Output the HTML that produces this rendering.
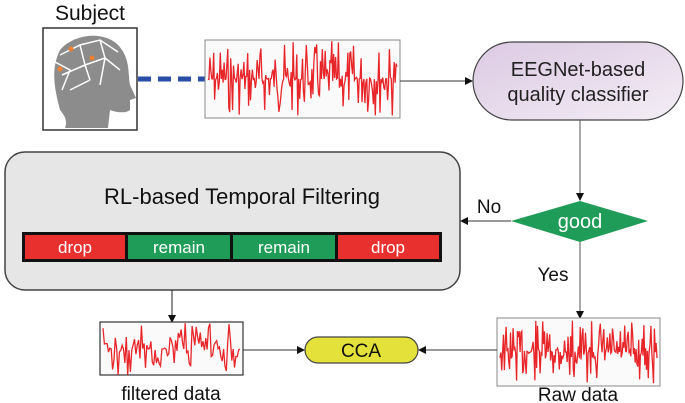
<!DOCTYPE html>
<html><head><meta charset="utf-8"><style>
body{margin:0;background:#fff}
svg{display:block}
text{font-family:"Liberation Sans",sans-serif}
</style></head><body>
<svg id="s" width="685" height="403" viewBox="0 0 685 403" xmlns="http://www.w3.org/2000/svg">
<defs>
<marker id="a" markerWidth="8" markerHeight="8" refX="7" refY="4" orient="auto" markerUnits="userSpaceOnUse"><path d="M0,0 L8,4 L0,8z" fill="#111"/></marker>
<linearGradient id="pg" x1="0" y1="0" x2="1" y2="1"><stop offset="0" stop-color="#dcc9e3"/><stop offset="1" stop-color="#f3eef5"/></linearGradient>
</defs>
<text x="90" y="20" font-size="21" text-anchor="middle" fill="#111">Subject</text>
<rect x="43" y="28" width="94" height="102" fill="#fff" stroke="#333" stroke-width="1.5"/>
<path d="M60,110 C55,90 50,70 60,50 C75,32 110,30 122,50 C130,62 128,75 130,85 L136,98 L130,100 L130,110 C125,114 115,112 110,110 L108,128 L65,128 C68,120 64,115 60,110z" fill="#8c8c8c"/>
<path d="M60,55 L80,45 L100,40 L118,52 M62,75 L85,65 L105,58 L120,70 M70,90 L90,80 M80,45 L85,65 L90,80 M100,40 L105,58 M55,62 L70,70 L62,90 M105,58 L100,85" stroke="#fff" stroke-width="1.5" fill="none"/>
<circle cx="71" cy="49" r="2.5" fill="#f08030"/><circle cx="92" cy="58" r="2.5" fill="#f08030"/><circle cx="60" cy="69" r="2.5" fill="#f08030"/>
<line x1="138" y1="79" x2="205" y2="79" stroke="#2a4ea8" stroke-width="5" stroke-dasharray="13,7"/>
<rect x="205" y="40" width="195" height="78" fill="#fafafa" stroke="#888" stroke-width="1"/>
<g id="w1"></g>
<line x1="400" y1="81" x2="472" y2="81" stroke="#333" stroke-width="1" marker-end="url(#a)"/>
<rect x="473" y="42" width="210" height="78" rx="39" fill="url(#pg)" stroke="#444" stroke-width="1.2"/>
<text x="578" y="76" font-size="20" text-anchor="middle" fill="#222">EEGNet-based</text>
<text x="578" y="101" font-size="20" text-anchor="middle" fill="#222">quality classifier</text>
<line x1="580" y1="120" x2="580" y2="200" stroke="#555" stroke-width="1" marker-end="url(#a)"/>
<rect x="5" y="152" width="455" height="138" rx="20" fill="#e6e6e6" stroke="#444" stroke-width="1.5"/>
<text x="242" y="204" font-size="22" text-anchor="middle" fill="#111">RL-based Temporal Filtering</text>
<rect x="22" y="232" width="420" height="30" fill="#111"/>
<rect x="25" y="235" width="100" height="24" fill="#e8302e"/>
<rect x="128" y="235" width="102" height="24" fill="#1f9c57"/>
<rect x="233" y="235" width="102" height="24" fill="#1f9c57"/>
<rect x="338" y="235" width="101" height="24" fill="#e8302e"/>
<g font-size="17" fill="#fff" text-anchor="middle"><text x="75" y="253">drop</text><text x="179" y="253">remain</text><text x="284" y="253">remain</text><text x="388" y="253">drop</text></g>
<polygon points="511,221 580,201 648,221 580,242" fill="#1f9c57"/>
<text x="580" y="228" font-size="20" text-anchor="middle" fill="#fff">good</text>
<line x1="511" y1="221" x2="461" y2="221" stroke="#333" stroke-width="1" marker-end="url(#a)"/>
<text x="489" y="213" font-size="19" text-anchor="middle" fill="#111">No</text>
<line x1="580" y1="242" x2="580" y2="318" stroke="#555" stroke-width="1" marker-end="url(#a)"/>
<text x="553" y="281" font-size="19" text-anchor="middle" fill="#111">Yes</text>
<rect x="497" y="318" width="163" height="68" fill="#fafafa" stroke="#888"/>
<g id="w2"></g>
<text x="578" y="401" font-size="19" text-anchor="middle" fill="#111">Raw data</text>
<line x1="172" y1="290" x2="172" y2="322" stroke="#222" stroke-width="1" marker-end="url(#a)"/>
<rect x="100" y="322" width="143" height="53" fill="#fafafa" stroke="#333" stroke-width="1.2"/>
<g id="w3"></g>
<text x="171" y="400" font-size="19" text-anchor="middle" fill="#111">filtered data</text>
<line x1="243" y1="350" x2="304" y2="350" stroke="#333" marker-end="url(#a)"/>
<line x1="497" y1="350" x2="419" y2="350" stroke="#333" marker-end="url(#a)"/>
<rect x="305" y="337" width="113" height="26" rx="13" fill="#e4e23a" stroke="#444" stroke-width="1.2"/>
<text x="361" y="357" font-size="19" text-anchor="middle" fill="#111">CCA</text>
</svg>
<script>
function wave(id,x0,x1,yc,amp,n,seed){var s=seed,r=function(){s=(s*9301+49297)%233280;return s/233280;};var p=[];for(var i=0;i<=n;i++){var x=x0+(x1-x0)*i/n;var v=(r()-0.5)*2;v=(v<0?-1:1)*Math.pow(Math.abs(v),2.2);p.push(x.toFixed(1)+","+(yc+v*amp).toFixed(1));}
var pl=document.createElementNS("http://www.w3.org/2000/svg","polyline");pl.setAttribute("points",p.join(" "));pl.setAttribute("fill","none");pl.setAttribute("stroke","#e8262a");pl.setAttribute("stroke-width","1.3");document.getElementById(id).appendChild(pl);}
wave("w1",208,397,79,38,200,7);wave("w2",500,657,352,32,180,13);wave("w3",103,240,349,26,100,21);
</script>
</body></html>
